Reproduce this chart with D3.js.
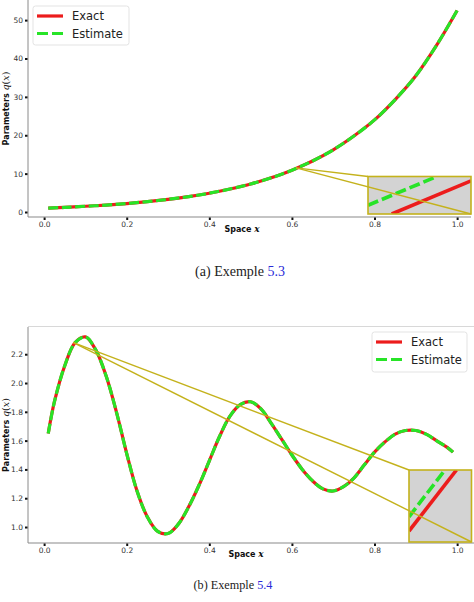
<!DOCTYPE html>
<html>
<head>
<meta charset="utf-8">
<script src="https://cdn.jsdelivr.net/npm/d3@7"></script>
<style>
  body { margin: 0; background: #fff; }
  svg { display: block; }
</style>
</head>
<body>
<svg id="chart" width="474" height="602"></svg>
<script>
// ---- data ----
const xTicks = [0.0, 0.2, 0.4, 0.6, 0.8, 1.0];

// (a) Exemple 5.3
const topX = [0.01, 0.05, 0.1, 0.15, 0.2, 0.25, 0.3, 0.35, 0.4, 0.45, 0.5, 0.55, 0.6, 0.65, 0.7, 0.75, 0.8, 0.85, 0.9, 0.95, 1.0];
const topExact = [1.0, 1.2, 1.5, 1.8, 2.2, 2.7, 3.3, 4.0, 4.9, 6.0, 7.3, 8.9, 10.9, 13.3, 16.2, 19.8, 24.0, 29.3, 35.5, 43.4, 52.5];
const topEstimate = [1.0, 1.2, 1.5, 1.8, 2.2, 2.7, 3.3, 4.0, 4.9, 6.0, 7.3, 8.9, 10.9, 13.3, 16.2, 19.8, 24.0, 29.3, 35.5, 43.4, 52.5];
const topYTicks = [0, 10, 20, 30, 40, 50];
// zoomed window of the inset (x, q)
const topZoomX = [0.600, 0.620];
const topZoomY = [11.0, 11.6];
const topZoomExact = [[0.6046, 11.0], [0.620, 11.53]];
const topZoomEstimate = [[0.600, 11.14], [0.6134, 11.6]];
const topZoomAt = [0.61, 11.5];

// (b) Exemple 5.4
const botX = [0.01, 0.025, 0.05, 0.075, 0.1, 0.125, 0.15, 0.175, 0.2, 0.225, 0.25, 0.275, 0.3, 0.325, 0.35, 0.375, 0.4, 0.425, 0.45, 0.475, 0.5, 0.525, 0.55, 0.575, 0.6, 0.625, 0.65, 0.675, 0.7, 0.725, 0.75, 0.775, 0.8, 0.825, 0.85, 0.875, 0.9, 0.925, 0.95, 0.975, 0.99];
const botExact = [1.65, 1.87, 2.12, 2.28, 2.32, 2.23, 2.05, 1.80, 1.51, 1.25, 1.07, 0.97, 0.955, 1.02, 1.14, 1.29, 1.46, 1.63, 1.77, 1.85, 1.87, 1.82, 1.72, 1.61, 1.50, 1.40, 1.32, 1.265, 1.25, 1.28, 1.34, 1.43, 1.52, 1.59, 1.645, 1.67, 1.67, 1.645, 1.60, 1.555, 1.52];
const botEstimate = [1.65, 1.87, 2.12, 2.28, 2.32, 2.23, 2.05, 1.80, 1.51, 1.25, 1.07, 0.97, 0.955, 1.02, 1.14, 1.29, 1.46, 1.63, 1.77, 1.85, 1.87, 1.82, 1.72, 1.61, 1.50, 1.40, 1.32, 1.265, 1.25, 1.28, 1.34, 1.43, 1.52, 1.59, 1.645, 1.67, 1.67, 1.645, 1.60, 1.555, 1.52];
const botYTicks = [1.0, 1.2, 1.4, 1.6, 1.8, 2.0, 2.2];
const botZoomX = [0.070, 0.072];
const botZoomY = [2.26, 2.30];
const botZoomExact = [[0.070, 2.2661], [0.07152, 2.30]];
const botZoomEstimate = [[0.070, 2.274], [0.07115, 2.30]];
const botZoomAt = [0.071, 2.28];

const seriesNames = ["Exact", "Estimate"];
const captions = [["(a) Exemple ", "5.3"], ["(b) Exemple ", "5.4"]];

const RED = "#ec1c1c", GREEN = "#27e427", OLIVE = "#c4b21c";
const svg = d3.select("#chart");

function panel(cfg) {
	const g = svg.append("g");
	const x = d3.scaleLinear().domain([-0.039, 1.036]).range([28, 472]);
	const y = d3.scaleLinear().domain(cfg.yDomain).range([cfg.bottom, cfg.top]);

	// frame
	if (cfg.topLine) {
		g.append("line").attr("x1", 28).attr("x2", 474).attr("y1", cfg.top - 0.5).attr("y2", cfg.top - 0.5)
			.attr("stroke", "#d8d8d8").attr("stroke-width", 1);
	}
	g.append("line").attr("x1", 28).attr("x2", 28).attr("y1", Math.max(cfg.top, 0)).attr("y2", cfg.bottom)
		.attr("stroke", "#8a8a8a").attr("stroke-width", 1);
	g.append("line").attr("x1", 28).attr("x2", cfg.rightEnd).attr("y1", cfg.bottom).attr("y2", cfg.bottom)
		.attr("stroke", "#8a8a8a").attr("stroke-width", 1.2);

	// axes
	const xAxis = g.append("g").attr("transform", "translate(0," + (cfg.bottom + 0.5) + ")")
		.call(d3.axisBottom(x).tickValues(xTicks).tickFormat(d3.format(".1f")).tickSize(2.5).tickPadding(2));
	const yAxis = g.append("g").attr("transform", "translate(27.5,0)")
		.call(d3.axisLeft(y).tickValues(cfg.yTicks).tickFormat(cfg.yFormat).tickSize(2.5).tickPadding(2));
	[xAxis, yAxis].forEach(a => {
		a.select(".domain").remove();
		a.selectAll(".tick line").attr("stroke", "#111").attr("stroke-width", 2);
		a.selectAll(".tick text").attr("fill", "#333").attr("font-size", 7.5).attr("font-family", "DejaVu Sans");
	});
	xAxis.selectAll(".tick text").attr("dy", "0.71em");

	// axis labels
	const xl = g.append("text").attr("x", cfg.xLabelX).attr("y", cfg.xLabelY).attr("text-anchor", "middle")
		.attr("font-family", "DejaVu Sans").attr("font-size", 8).attr("font-weight", "bold").attr("fill", "#111");
	xl.append("tspan").text("Space ");
	xl.append("tspan").attr("font-family", "DejaVu Serif").attr("font-style", "italic").attr("font-size", 9).text("x");

	const yl = g.append("text")
		.attr("transform", "translate(9," + ((Math.max(cfg.top, 0) + cfg.bottom) / 2) + ") rotate(-90)")
		.attr("text-anchor", "middle").attr("font-family", "DejaVu Sans").attr("font-size", 8).attr("fill", "#111");
	yl.append("tspan").attr("font-weight", "bold").text("Parameters ");
	const math = [["q", true], ["(", false], ["x", true], [")", false]];
	math.forEach(m => {
		yl.append("tspan").attr("font-family", "DejaVu Serif").attr("font-size", 9.5)
			.attr("font-style", m[1] ? "italic" : null).text(m[0]);
	});

	// curves
	const line = d3.line().x(d => x(d[0])).y(d => y(d[1])).curve(d3.curveCatmullRom);
	g.append("path").datum(cfg.xs.map((v, i) => [v, cfg.exact[i]]))
		.attr("d", line).attr("fill", "none").attr("stroke", RED).attr("stroke-width", 3.2);
	g.append("path").datum(cfg.xs.map((v, i) => [v, cfg.estimate[i]]))
		.attr("d", line).attr("fill", "none").attr("stroke", GREEN).attr("stroke-width", 3.2)
		.attr("stroke-dasharray", "10,3.5");

	// inset
	const ib = cfg.inset;
	const ix = d3.scaleLinear().domain(cfg.zoomX).range([ib.x0, ib.x1]);
	const iy = d3.scaleLinear().domain(cfg.zoomY).range([ib.y1, ib.y0]);
	const px = x(cfg.zoomAt[0]), py = y(cfg.zoomAt[1]);
	g.append("rect").attr("x", ib.x0).attr("y", ib.y0).attr("width", ib.x1 - ib.x0).attr("height", ib.y1 - ib.y0)
		.attr("fill", "#d3d3d3");
	const clipId = "clip" + cfg.id;
	g.append("clipPath").attr("id", clipId).append("rect")
		.attr("x", ib.x0).attr("y", ib.y0).attr("width", ib.x1 - ib.x0).attr("height", ib.y1 - ib.y0);
	const iline = d3.line().x(d => ix(d[0])).y(d => iy(d[1]));
	g.append("path").datum(cfg.zoomExact).attr("d", iline).attr("clip-path", "url(#" + clipId + ")")
		.attr("fill", "none").attr("stroke", RED).attr("stroke-width", 3.6);
	g.append("path").datum(cfg.zoomEstimate).attr("d", iline).attr("clip-path", "url(#" + clipId + ")")
		.attr("fill", "none").attr("stroke", GREEN).attr("stroke-width", 3.6).attr("stroke-dasharray", "11,4");
	g.append("rect").attr("x", ib.x0).attr("y", ib.y0).attr("width", ib.x1 - ib.x0).attr("height", ib.y1 - ib.y0)
		.attr("fill", "none").attr("stroke", OLIVE).attr("stroke-width", 1.6);
	// connectors from the zoomed spot to the inset corners
	[[ib.x0, ib.y0], [ib.x1, ib.y1]].forEach(c => {
		g.append("line").attr("x1", px).attr("y1", py).attr("x2", c[0]).attr("y2", c[1])
			.attr("stroke", OLIVE).attr("stroke-width", 1.4);
	});

	// legend
	const L = cfg.legend;
	const lg = g.append("g").attr("transform", "translate(" + L.x + "," + L.y + ")");
	lg.append("rect").attr("width", L.w).attr("height", L.h).attr("rx", 2.5)
		.attr("fill", "#fff").attr("fill-opacity", 0.85).attr("stroke", "#dcdcdc").attr("stroke-width", 0.8);
	seriesNames.forEach((name, i) => {
		const yy = 10 + i * 17.5;
		lg.append("line").attr("x1", 4).attr("x2", 30).attr("y1", yy).attr("y2", yy)
			.attr("stroke", i === 0 ? RED : GREEN).attr("stroke-width", 3.2)
			.attr("stroke-dasharray", i === 0 ? null : "11,4");
		lg.append("text").attr("x", 39).attr("y", yy).attr("dy", "0.36em")
			.attr("font-family", "DejaVu Sans").attr("font-size", 11.5).attr("fill", "#222").text(name);
	});

	// caption
	const cap = g.append("text").attr("x", cfg.caption.x).attr("y", cfg.caption.y).attr("text-anchor", "middle")
		.attr("font-family", "Liberation Serif").attr("font-size", cfg.caption.size).attr("fill", "#222");
	cap.append("tspan").text(cfg.caption.text[0]);
	cap.append("tspan").attr("fill", "#2a2ad8").text(cfg.caption.text[1]);
}

panel({
	id: "a", top: -1, bottom: 217, rightEnd: 471, topLine: false,
	yDomain: [-1.3, 55.5], yTicks: topYTicks, yFormat: d3.format("d"),
	xs: topX, exact: topExact, estimate: topEstimate,
	zoomX: topZoomX, zoomY: topZoomY, zoomExact: topZoomExact, zoomEstimate: topZoomEstimate, zoomAt: topZoomAt,
	inset: {x0: 368, x1: 471, y0: 176.5, y1: 214},
	legend: {x: 33, y: 6, w: 96, h: 39},
	xLabelX: 242, xLabelY: 232,
	caption: {x: 240, y: 276, size: 14, text: captions[0]}
});

panel({
	id: "b", top: 327, bottom: 543, rightEnd: 474, topLine: true,
	yDomain: [0.889, 2.389], yTicks: botYTicks, yFormat: d3.format(".1f"),
	xs: botX, exact: botExact, estimate: botEstimate,
	zoomX: botZoomX, zoomY: botZoomY, zoomExact: botZoomExact, zoomEstimate: botZoomEstimate, zoomAt: botZoomAt,
	inset: {x0: 409, x1: 471.5, y0: 470, y1: 542},
	legend: {x: 372, y: 332, w: 95, h: 40},
	xLabelX: 246, xLabelY: 557,
	caption: {x: 233, y: 589, size: 12.2, text: captions[1]}
});
</script>
</body>
</html>
